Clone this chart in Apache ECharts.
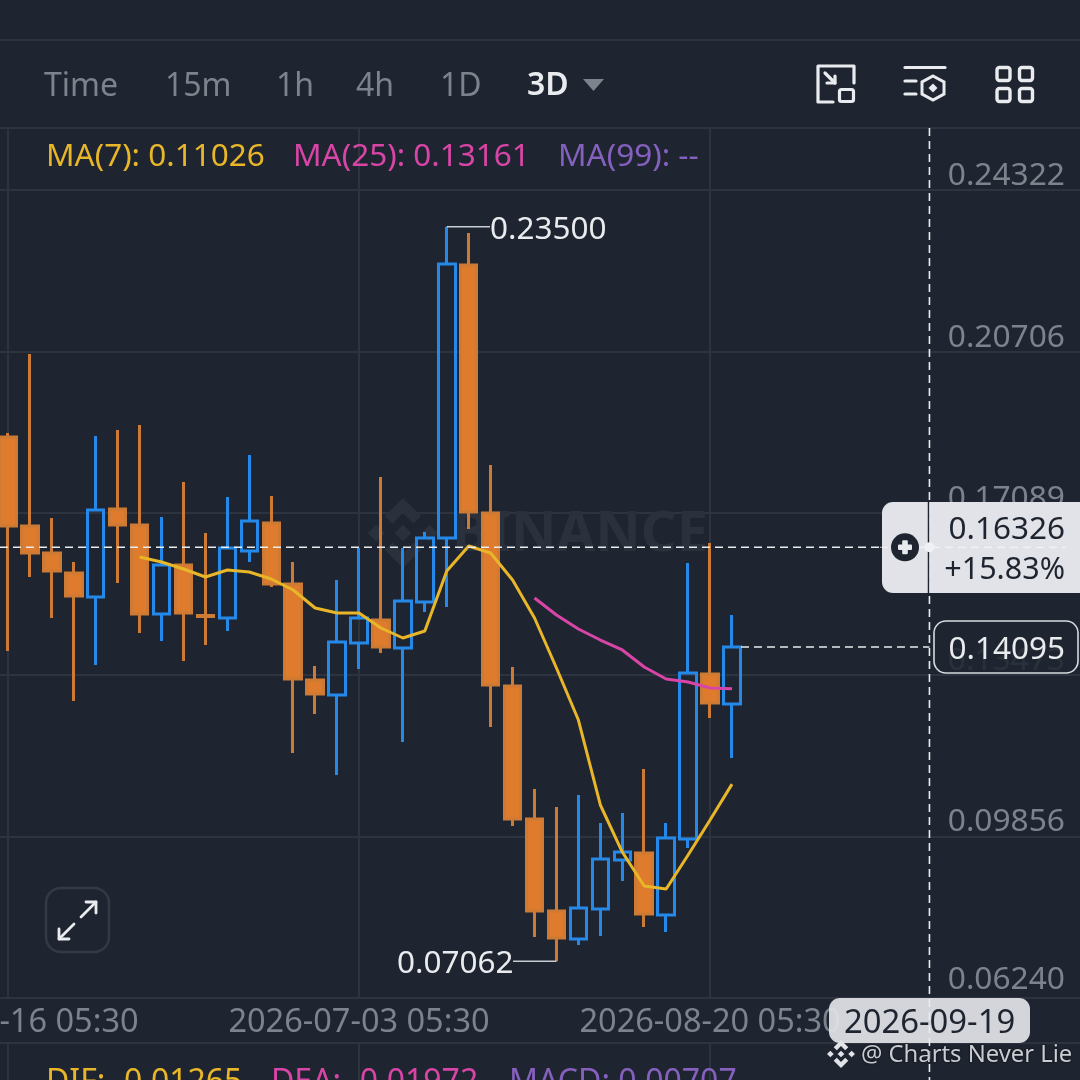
<!DOCTYPE html>
<html>
<head>
<meta charset="utf-8">
<style>html,body{margin:0;padding:0;background:#1f2530}#c{width:1080px;height:1080px}</style>
<script src="https://cdn.jsdelivr.net/npm/echarts@6/dist/echarts.min.js"></script>
</head>
<body>
<div id="c"></div>
<script>
const categories = ["2026-05-16 05:30","2026-05-19 05:30","2026-05-22 05:30","2026-05-25 05:30","2026-05-28 05:30","2026-05-31 05:30","2026-06-03 05:30","2026-06-06 05:30","2026-06-09 05:30","2026-06-12 05:30","2026-06-15 05:30","2026-06-18 05:30","2026-06-21 05:30","2026-06-24 05:30","2026-06-27 05:30","2026-06-30 05:30","2026-07-03 05:30","2026-07-06 05:30","2026-07-09 05:30","2026-07-12 05:30","2026-07-15 05:30","2026-07-18 05:30","2026-07-21 05:30","2026-07-24 05:30","2026-07-27 05:30","2026-07-30 05:30","2026-08-02 05:30","2026-08-05 05:30","2026-08-08 05:30","2026-08-11 05:30","2026-08-14 05:30","2026-08-17 05:30","2026-08-20 05:30","2026-08-23 05:30","2026-08-26 05:30","2026-08-29 05:30","2026-09-01 05:30","2026-09-04 05:30","2026-09-07 05:30","2026-09-10 05:30","2026-09-13 05:30","2026-09-16 05:30","2026-09-19 05:30","2026-09-22 05:30","2026-09-25 05:30","2026-09-28 05:30","2026-10-01 05:30","2026-10-04 05:30","2026-10-07 05:30","2026-10-10 05:30"];
const open  = [.18794,.16802,.16198,.15751,.15214,.17183,.16825,.14833,.15930,.14800,.14744,.16243,.16870,.15504,.13356,.13021,.14184,.14699,.14072,.15102,.16534,.22643,.17093,.13222,.10246,.08187,.07560,.08232,.09328,.09485,.08097,.09798,.13490,.12819];
const close = [.16802,.16198,.15795,.15236,.17160,.16825,.14833,.15930,.14856,.14777,.16310,.16914,.15504,.13379,.13043,.14207,.14744,.14095,.15124,.16534,.22665,.17116,.13244,.10246,.08187,.07583,.08254,.09351,.09507,.08120,.09820,.13513,.12842,.14095];
const low   = [.14005,.15661,.14744,.12886,.13692,.15527,.14408,.14229,.13781,.14139,.14453,.15997,.15437,.11723,.12595,.11230,.13602,.13960,.11969,.14878,.14990,.16735,.12304,.10089,.07605,.07062,.07426,.07627,.08858,.07829,.07717,.09597,.12506,.11611];
const high  = [.18884,.20651,.16981,.15997,.18816,.18951,.19063,.17004,.17787,.16646,.17451,.18391,.17474,.15997,.13669,.15594,.16310,.17899,.16310,.16668,.23500,.23359,.18167,.13647,.10917,.10514,.10783,.10156,.10380,.11365,.10156,.15974,.16422,.14811];
const ma7   = [null,null,null,null,null,null,.16109,.15997,.15840,.15661,.15818,.15773,.15616,.15370,.14967,.14856,.14856,.14520,.14296,.14453,.15795,.16355,.16198,.15594,.14744,.13625,.12461,.10559,.09507,.08746,.08679,.09440,.10223,.11026];
const ma25  = [null,null,null,null,null,null,null,null,null,null,null,null,null,null,null,null,null,null,null,null,null,null,null,null,.15191,.14811,.14497,.14251,.14028,.13647,.13379,.13311,.13177,.13161];
const yMin = 0.0624, yStep = 0.036164, yMax = 0.25709;
const labelledIndexes = [0, 16, 32];
const crossIndex = 42, crossPrice = 0.16326, lastPrice = 0.14095, highIndex = 20, highPrice = 0.235, lowIndex = 25, lowPrice = 0.07062;
const tabs = [["Time",44],["15m",165],["1h",276],["4h",356],["1D",440]];
const legendItems = [["MA(7): 0.11026",46,"#E8B628"],["MA(25): 0.13161",293,"#D845A6"],["MA(99): --",558,"#8560BE"]];
const macdItems = [["DIF: -0.01265",46,"#E8B628"],["DEA: -0.01972",271,"#D845A6"],["MACD: 0.00707",509,"#8560BE"]];

const BG="#1f2530", GRID="#2e343f", GREY="#7d838d", BLUE="#2489E9", ORANGE="#DF7B2D", ORANGE_EDGE="#CC7A34", FONT="'Noto Sans', Inter, sans-serif", PILL="#E1E3E8", WHITE="#E9EBEE";
const chart = echarts.init(document.getElementById('c'), null, {renderer:'canvas'});
chart.setOption({
  animation:false, backgroundColor:BG,
  grid:{left:-3, right:-14, top:128, bottom:82, containLabel:false, outerBoundsMode:'none'},
  xAxis:{type:'category', data:categories, boundaryGap:true,
    axisLine:{lineStyle:{color:GRID,width:2}}, axisTick:{show:false,alignWithLabel:true},
    splitLine:{show:true, alignWithLabel:true, interval:(i)=>labelledIndexes.includes(i), lineStyle:{color:GRID,width:2}},
    axisLabel:{show:true, interval:(i)=>labelledIndexes.includes(i), color:GREY, fontFamily:FONT, fontSize:32.5, margin:8, hideOverlap:false}},
  yAxis:{type:'value', position:'right', min:yMin, max:yMax, interval:yStep, scale:true,
    axisLine:{show:false}, axisTick:{show:false},
    splitLine:{show:true, lineStyle:{color:GRID,width:2}},
    axisLabel:{inside:true, margin:29, color:GREY, fontFamily:FONT, fontSize:31.7, verticalAlign:'bottom', align:'right', showMinLabel:true, showMaxLabel:false, padding:[0,0,-2,0],
      rich:{base:{color:GREY, fontFamily:FONT, fontSize:31.7, padding:[0,0,4,0]}},
      formatter:(v)=> v>0.25 ? '' : (Math.abs(v-yMin)<1e-9 ? `{base|${v.toFixed(5)}}` : v.toFixed(5))}},
  series:[
    {type:'candlestick', barWidth:17, clip:false, data:categories.slice(0,open.length).map((_,i)=>[open[i],close[i],low[i],high[i]]),
      itemStyle:{color:'transparent', color0:ORANGE, borderColor:BLUE, borderColor0:ORANGE_EDGE, borderWidth:3}},
    {type:'line', data:ma7, showSymbol:false, symbol:'none', connectNulls:false, lineStyle:{color:"#E8B628",width:3}, z:5},
    {type:'line', data:ma25, showSymbol:false, symbol:'none', connectNulls:false, lineStyle:{color:"#D845A6",width:3}, z:5}
  ]
});
const X=(i)=>chart.convertToPixel({xAxisIndex:0},i), Y=(v)=>chart.convertToPixel({yAxisIndex:0},v);
const txt=(text,x,y,fill,size,o={})=>({type:'text',z:o.z??20,silent:true,style:{text,x,y,fill,font:`${o.weight||400} ${size}px ${FONT}`,align:o.align||'left',verticalAlign:'middle',opacity:o.opacity??1,textShadowColor:o.shadow,textShadowBlur:o.shadow?2:0}});
const line=(x1,y1,x2,y2,stroke,w,o={})=>({type:'line',z:o.z??20,silent:true,shape:{x1,y1,x2,y2},style:{stroke,lineWidth:w,lineDash:o.dash,lineCap:o.cap||'butt',opacity:o.opacity??1}});
const poly=(points,stroke,w,z=20)=>({type:'polyline',z,silent:true,shape:{points},style:{stroke,lineWidth:w,fill:'none',lineCap:'round',lineJoin:'round'}});
const gon=(points,fill,z=20,o=1)=>({type:'polygon',z,silent:true,shape:{points},style:{fill,opacity:o}});
const rrect=(x,y,width,height,r,fill,stroke,w,z=20,op=1)=>({type:'rect',z,silent:true,shape:{x,y,width,height,r},style:{fill:fill||'none',stroke:stroke||'none',lineWidth:w||0,opacity:op}});
function logo(cx,cy,r,fill,z){
  const p=(a)=>a.map(q=>[cx+q[0]*r,cy+q[1]*r]);
  const dia=(dx,s)=>gon(p([[dx-s,0],[dx,-s],[dx+s,0],[dx,s]]),fill,z);
  return [gon(p([[0,-1],[.52,-.48],[.3,-.27],[0,-.57],[-.3,-.27],[-.52,-.48]]),fill,z),
          gon(p([[0,1],[.52,.48],[.3,.27],[0,.57],[-.3,.27],[-.52,.48]]),fill,z),
          dia(0,.24),dia(-.76,.24),dia(.76,.24)];
}
const cx=X(crossIndex), cy=Y(crossPrice), ly=Y(lastPrice), hx=X(highIndex), hy=Y(highPrice), lx=X(lowIndex), lwy=Y(lowPrice);
const el=[];
// chrome lines
el.push(line(0,40,1080,40,GRID,2,{z:1}), line(0,1043,1080,1043,GRID,2,{z:1}));
labelledIndexes.forEach(i=>el.push(line(X(i),1043,X(i),1080,GRID,2,{z:1})));
// watermark
el.push(...logo(403,533,35,"#2b313c",1));
el.push(txt("BINANCE",452,535,"#2b313c",56,{weight:700,z:1}));
// tabs
tabs.forEach(t=>el.push(txt(t[0],t[1],87,GREY,32)));
el.push(txt("3D",527,86,WHITE,32,{weight:600}));
el.push(gon([[583,79],[604,79],[593.5,91]],GREY));
legendItems.forEach(t=>el.push(txt(t[0],t[1],157,t[2],31.5)));
macdItems.forEach(t=>el.push(txt(t[0],t[1],1083,t[2],32)));
// icons
el.push(poly([[833,102],[818,102],[818,66],[854,66],[854,83]],WHITE,3.2));
el.push(poly([[825,73],[835,83]],WHITE,3.2), poly([[835,76],[835,83],[827,83]],WHITE,3.2));
el.push(rrect(839.5,89.5,14,12,2,null,WHITE,3.2));
el.push(line(905,67.5,945,67.5,WHITE,3.2,{cap:'round'}), line(905,81,916,81,WHITE,3.2,{cap:'round'}), line(905,94,916,94,WHITE,3.2,{cap:'round'}));
el.push({type:'polygon',z:20,silent:true,shape:{points:[[933,76],[944,82],[944,94],[933,100],[922,94],[922,82]]},style:{fill:'none',stroke:WHITE,lineWidth:3}});
el.push(gon([[933,83.5],[937.5,88],[933,92.5],[928.5,88]],WHITE));
[[997,67.5],[1019.5,67.5],[997,88.5],[1019.5,88.5]].forEach(q=>el.push(rrect(q[0],q[1],13,13,2.5,null,WHITE,3.4)));
// expand button
el.push(rrect(46,888,63,64,15,null,"#343a45",2.5));
el.push(poly([[81,917],[96,902]],WHITE,2.8), poly([[86,902],[96,902],[96,913]],WHITE,2.8));
el.push(poly([[74,924],[59,939]],WHITE,2.8), poly([[59,929],[59,939],[69,939]],WHITE,2.8));
// hi/lo callouts
el.push(line(hx,hy,490,hy,"#C9CCD2",1.5), txt(highPrice.toFixed(5),490,hy+3,WHITE,31.5));
el.push(line(513,lwy,lx,lwy,"#C9CCD2",1.5), txt(lowPrice.toFixed(5),397,lwy+3,WHITE,31.5));
// crosshair and last price
el.push(line(0,cy,884,cy,WHITE,1.6,{dash:[8,5],z:10}));
el.push(line(cx,128,cx,1080,WHITE,1.6,{dash:[8,5],z:31}));
el.push(line(X(33)+9,ly,cx,ly,WHITE,1.6,{dash:[8,5],z:10}));
el.push(rrect(934,621,144,52,12,"rgba(31,37,48,0.88)","#D7DADF",1.6,30));
el.push(txt(lastPrice.toFixed(5),1065,650,WHITE,31.5,{align:'right',z:32}));
el.push(rrect(882,502,210,91,11,PILL,null,0,30));
el.push(line(cx-1,502,cx-1,593,BG,1.4,{z:31}));
el.push(txt(crossPrice.toFixed(5),1065,530,BG,31.5,{align:'right',z:32}));
el.push(txt("+15.83%",1065,570,BG,30.5,{align:'right',z:32}));
el.push({type:'circle',z:32,silent:true,shape:{cx:905,cy:cy,r:14},style:{fill:BG}});
el.push(rrect(898,cy-2.8,14,5.6,1,"#E8EAED",null,0,33), rrect(902.2,cy-7,5.6,14,1,"#E8EAED",null,0,33));
el.push({type:'circle',z:33,silent:true,shape:{cx:cx,cy:cy,r:5},style:{fill:'#F0F1F4'}});
el.push(line(880,cy,1066,cy,"#FFFFFF",1,{dash:[8,5],z:31,opacity:.7}));
// date pill and credit
el.push(rrect(829,998,201,45,11,PILL,null,0,30,.93));
el.push(txt("2026-09-19",844,1024,BG,32.8,{z:32}));
el.push(...logo(841,1054,14,"#E2E4E8",34));
el.push(txt("@ Charts Never Lie",861,1055,"#C9CDD3",23.8,{z:34,shadow:"#000"}));
chart.setOption({graphic:{elements:el}});
</script>
</body>
</html>
